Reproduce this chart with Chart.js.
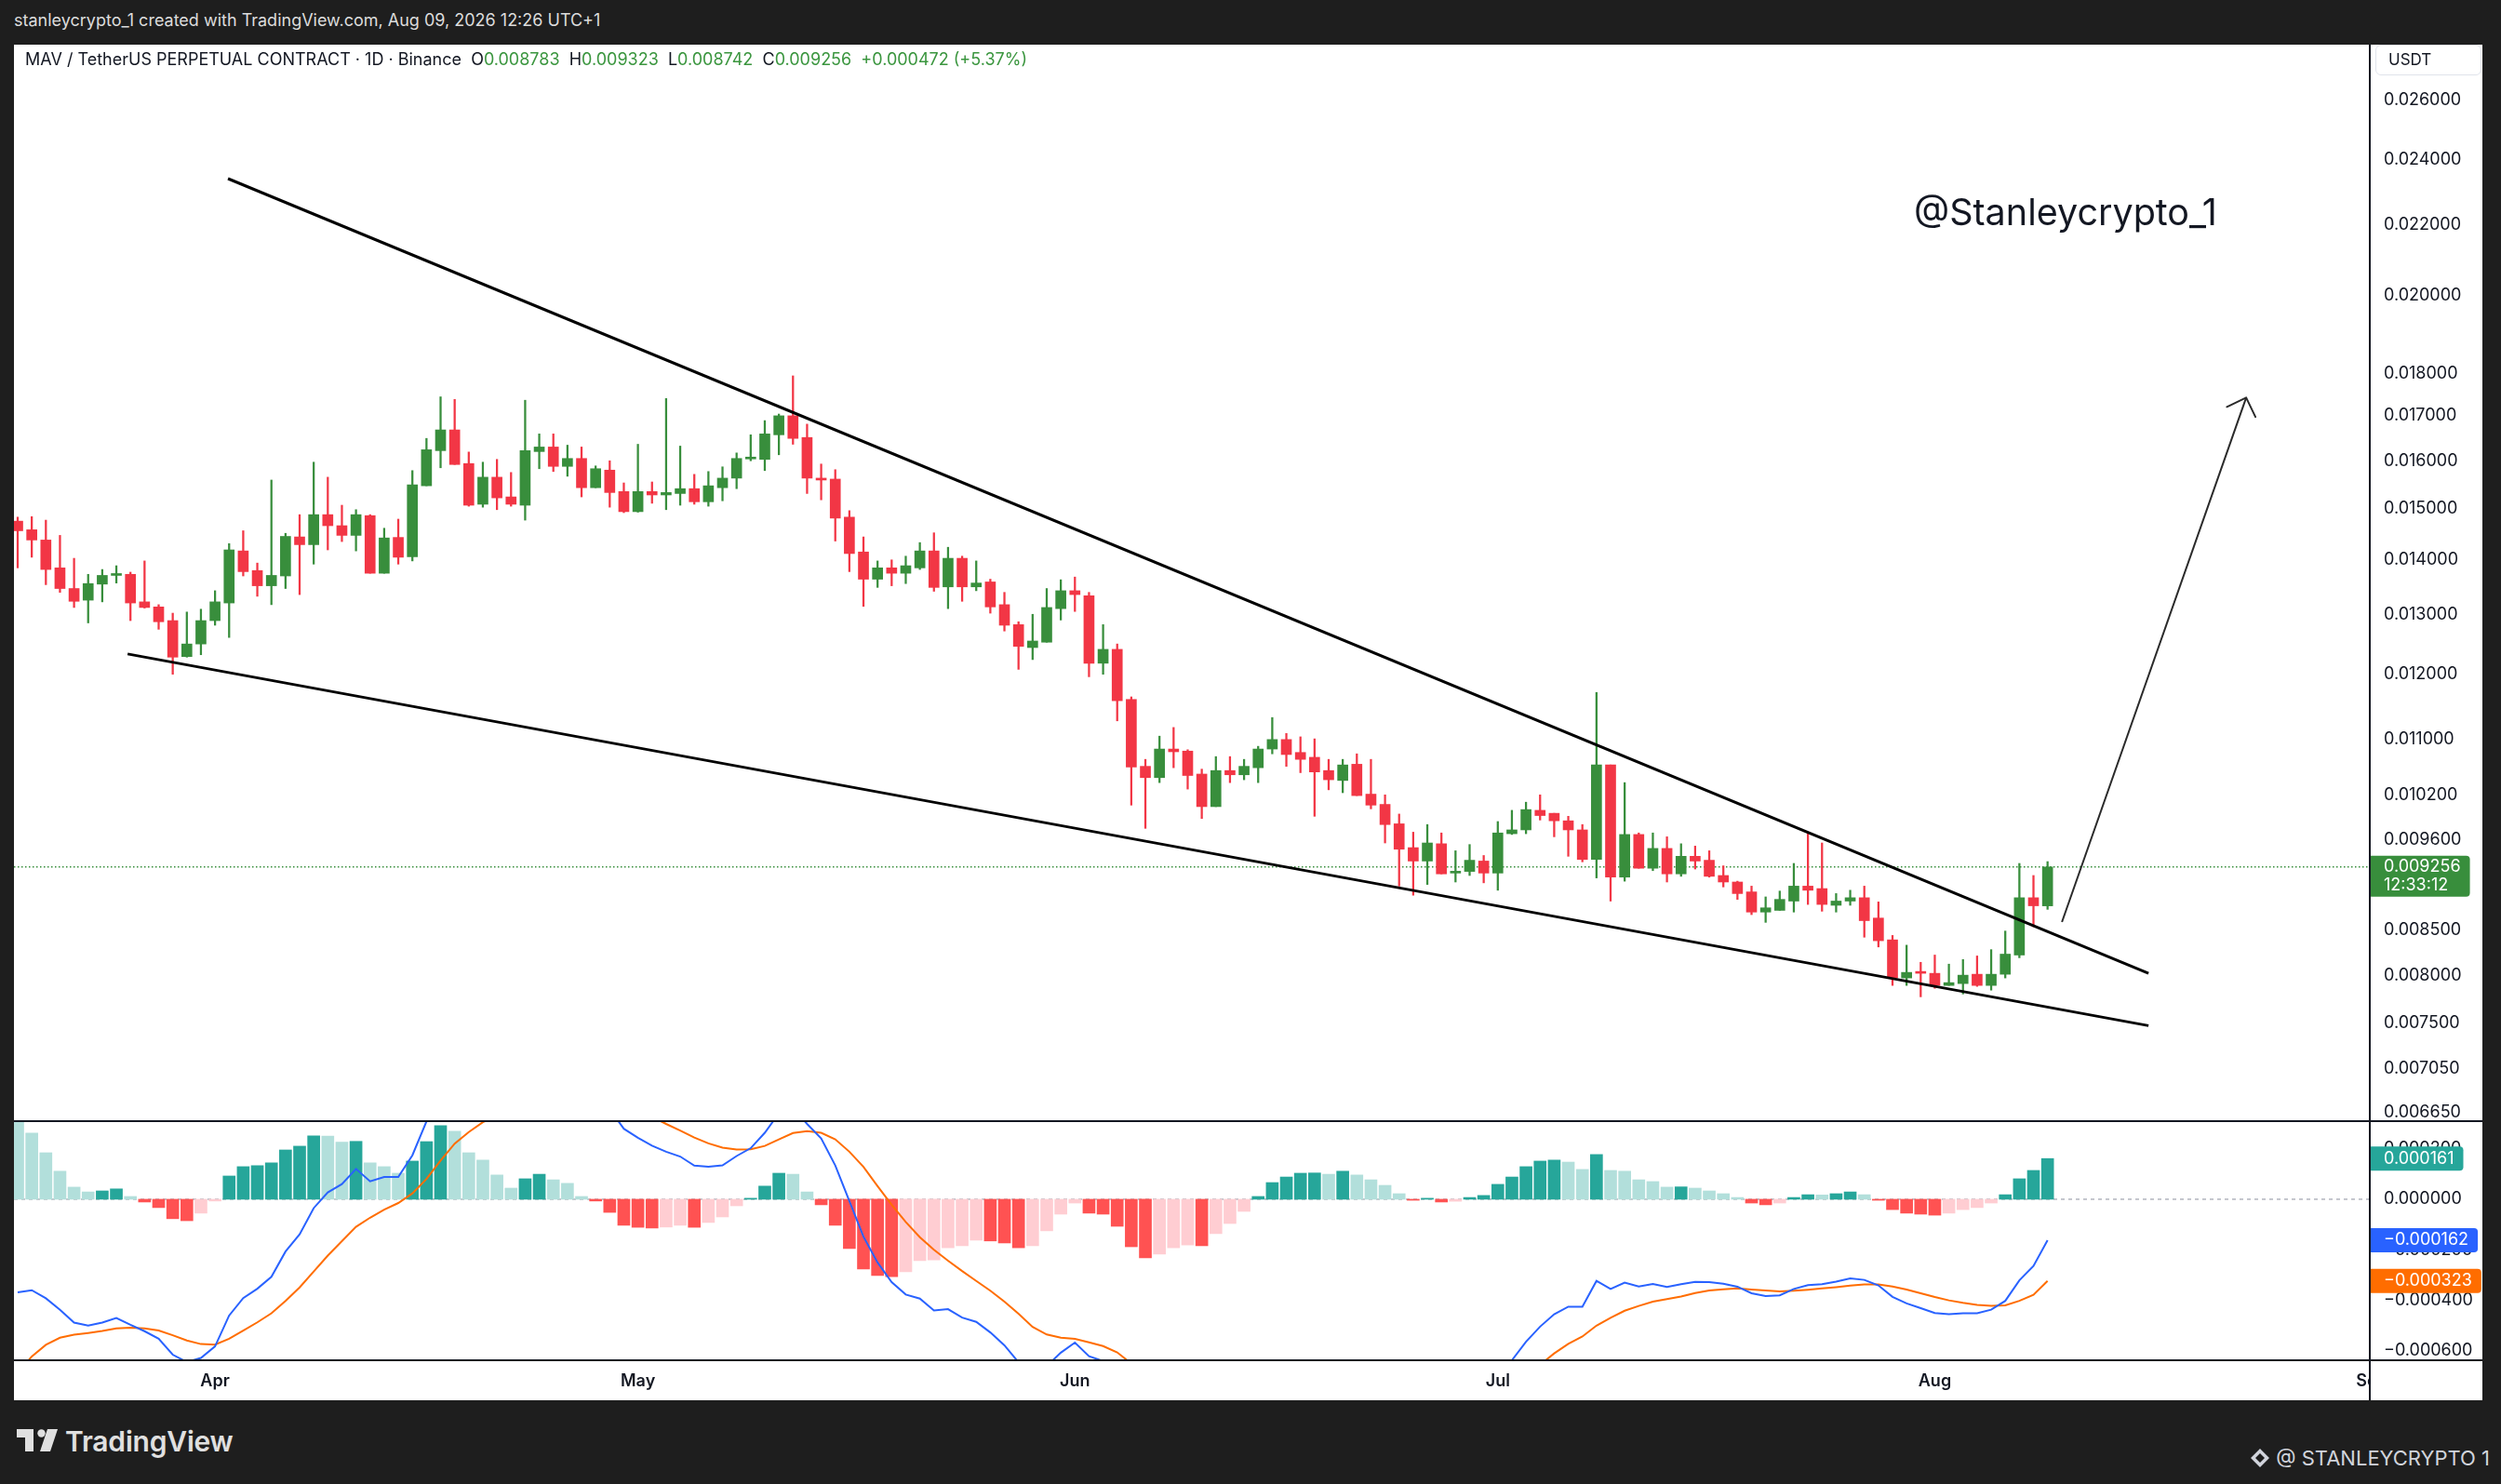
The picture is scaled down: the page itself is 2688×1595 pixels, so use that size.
<!DOCTYPE html>
<html>
<head>
<meta charset="utf-8">
<script src="https://cdn.jsdelivr.net/npm/chart.js@4.4.1/dist/chart.umd.min.js"></script>
<style>
  html, body { margin: 0; padding: 0; background: #1e1e1e; }
  body { width: 2688px; height: 1595px; position: relative; overflow: hidden; font-family: Inter, "Noto Sans", sans-serif; }
  #topline { position: absolute; left: 15px; top: 11px; font-size: 18px; line-height: 22px; color: #dcdcdc; }
  #frame { position: absolute; left: 15px; top: 48px; width: 2653px; height: 1457px; background: #fff; }
  .pane { position: absolute; left: 15px; width: 2653px; }
  #pricePane { top: 48px; height: 1157px; }
  #macdPane { top: 1205px; height: 300px; }
  .ln { position: absolute; background: #131722; z-index: 5; }
  #legend { position: absolute; left: 27px; top: 53px; font-size: 18px; line-height: 22px; color: #131722; z-index: 6; white-space: pre; }
  #legend .v { color: #3b963f; }
  #unit { position: absolute; left: 2553px; top: 48px; width: 99px; height: 31px; padding-left: 13px; border: 1px solid #e0e3eb; border-radius: 6px; font-size: 17px; line-height: 31px; color: #131722; z-index: 6; }
  #handle { position: absolute; left: 2057px; top: 209px; font-size: 39.5px; line-height: 39.5px; color: #131722; z-index: 6; }
  #tvlogo { position: absolute; left: 18px; top: 1536px; }
  #tvtext { position: absolute; left: 70px; top: 1532px; font-size: 30px; line-height: 34px; font-weight: 600; color: #e0e0e0; letter-spacing: -0.2px; }
  #mark { position: absolute; right: 12px; top: 1554px; font-size: 22px; line-height: 26px; color: #d1d4dc; }
  #mark svg { vertical-align: -3px; margin-right: 6px; }
</style>
</head>
<body>
<div id="topline">stanleycrypto_1 created with TradingView.com, Aug 09, 2026 12:26 UTC+1</div>
<div id="frame"></div>
<div class="pane" id="pricePane"><canvas id="price"></canvas></div>
<div class="pane" id="macdPane"><canvas id="macd"></canvas></div>
<div class="ln" style="left:15px; top:1204px; width:2653px; height:2px;"></div>
<div class="ln" style="left:15px; top:1461px; width:2653px; height:2px;"></div>
<div class="ln" style="left:2546px; top:48px; width:2px; height:1457px;"></div>
<div id="legend">MAV / TetherUS PERPETUAL CONTRACT · 1D · Binance  O<span class="v">0.008783</span>  H<span class="v">0.009323</span>  L<span class="v">0.008742</span>  C<span class="v">0.009256</span>  <span class="v">+0.000472 (+5.37%)</span></div>
<div id="unit">USDT</div>
<div id="handle">@Stanleycrypto_1</div>
<svg id="tvlogo" width="46" height="26" viewBox="0 0 46 26">
  <path d="M0 0 H18 V24 H9 V9 H0 Z" fill="#e0e0e0"/>
  <circle cx="26.5" cy="4.5" r="4.2" fill="#e0e0e0"/>
  <path d="M33 0 H44 L36 24 H25 Z" fill="#e0e0e0"/>
</svg>
<div id="tvtext">TradingView</div>
<div id="mark"><svg width="22" height="22" viewBox="0 0 22 22"><path d="M11 1 L21 11 L11 21 L1 11 Z M11 6 L6 11 L11 16 L16 11 Z" fill="#d1d4dc" fill-rule="evenodd"/></svg>@ STANLEYCRYPTO 1</div>

<script>
// MAV/USDT daily candles, 18 Mar .. 9 Aug (index 0 = 18 Mar)
const opens = [0.01475,0.01458,0.01438,0.01385,0.01347,0.01326,0.01355,0.01371,0.01373,0.01323,
  0.01314,0.01290,0.01229,0.01250,0.01290,0.01321,0.01417,0.01380,0.01352,0.01370,
  0.01444,0.01429,0.01488,0.01466,0.01447,0.01486,0.01375,0.01443,0.01406,0.01547,
  0.01622,0.01668,0.01594,0.01509,0.01565,0.01524,0.01507,0.01620,0.01630,0.01588,
  0.01605,0.01543,0.01580,0.01535,0.01494,0.01535,0.01528,0.01531,0.01541,0.01514,
  0.01543,0.01563,0.01604,0.01603,0.01657,0.01700,0.01651,0.01563,0.01561,0.01483,
  0.01415,0.01364,0.01385,0.01375,0.01385,0.01417,0.01350,0.01403,0.01350,0.01359,
  0.01318,0.01283,0.01244,0.01253,0.01311,0.01343,0.01334,0.01218,0.01241,0.01160,
  0.01060,0.01044,0.01085,0.01082,0.01049,0.01004,0.01054,0.01048,0.01058,0.01085,
  0.01099,0.01080,0.01073,0.01054,0.01040,0.01063,0.01021,0.01007,0.00981,0.00950,
  0.00933,0.00955,0.00918,0.00920,0.00933,0.00918,0.00968,0.00973,0.00999,0.00995,
  0.00985,0.00973,0.00935,0.01062,0.00913,0.00967,0.00924,0.00949,0.00917,0.00939,
  0.00934,0.00915,0.00907,0.00895,0.00871,0.00873,0.00884,0.00902,0.00899,0.00879,
  0.00884,0.00888,0.00864,0.00839,0.00797,0.00803,0.00802,0.00789,0.00791,0.00801,
  0.00789,0.00801,0.00822,0.00888,0.008783];
const highs = [0.01483,0.01484,0.01477,0.01447,0.01403,0.01373,0.01382,0.01389,0.01377,0.01398,
  0.01318,0.01303,0.01305,0.01310,0.01343,0.01431,0.01456,0.01394,0.01559,0.01451,
  0.01488,0.01597,0.01565,0.01507,0.01498,0.01488,0.01461,0.01479,0.01579,0.01649,
  0.01744,0.01738,0.01619,0.01597,0.01603,0.01575,0.01736,0.01659,0.01659,0.01634,
  0.01630,0.01589,0.01600,0.01553,0.01636,0.01555,0.01740,0.01632,0.01571,0.01577,
  0.01587,0.01617,0.01657,0.01689,0.01704,0.01794,0.01681,0.01593,0.01581,0.01496,
  0.01444,0.01398,0.01400,0.01407,0.01433,0.01452,0.01424,0.01407,0.01398,0.01364,
  0.01340,0.01288,0.01301,0.01347,0.01363,0.01368,0.01340,0.01283,0.01250,0.01164,
  0.01070,0.01104,0.01117,0.01084,0.01056,0.01074,0.01074,0.01070,0.01089,0.01132,
  0.01108,0.01103,0.01100,0.01070,0.01070,0.01078,0.01070,0.01020,0.00994,0.00970,
  0.00980,0.00969,0.00946,0.00954,0.00940,0.00984,0.00999,0.01010,0.01020,0.00995,
  0.00991,0.00980,0.01171,0.01062,0.01037,0.00969,0.00969,0.00964,0.00955,0.00952,
  0.00946,0.00927,0.00908,0.00902,0.00889,0.00896,0.00930,0.00968,0.00956,0.00893,
  0.00897,0.00902,0.00883,0.00844,0.00833,0.00814,0.00822,0.00812,0.00817,0.00821,
  0.00828,0.00849,0.00930,0.00915,0.009323];
const lows = [0.01385,0.01405,0.01354,0.01340,0.01313,0.01286,0.01323,0.01357,0.01290,0.01312,
  0.01275,0.01200,0.01228,0.01232,0.01282,0.01261,0.01370,0.01333,0.01318,0.01347,
  0.01336,0.01392,0.01419,0.01435,0.01417,0.01375,0.01375,0.01392,0.01398,0.01547,
  0.01585,0.01592,0.01505,0.01503,0.01498,0.01505,0.01477,0.01583,0.01577,0.01567,
  0.01524,0.01543,0.01503,0.01492,0.01493,0.01511,0.01498,0.01507,0.01509,0.01505,
  0.01516,0.01541,0.01600,0.01579,0.01613,0.01636,0.01531,0.01518,0.01436,0.01378,
  0.01315,0.01349,0.01352,0.01356,0.01382,0.01342,0.01311,0.01324,0.01343,0.01303,
  0.01272,0.01208,0.01224,0.01253,0.01291,0.01306,0.01196,0.01200,0.01127,0.01006,
  0.00975,0.01037,0.01058,0.01028,0.00988,0.01004,0.01037,0.01041,0.01037,0.01078,
  0.01060,0.01051,0.00991,0.01027,0.01023,0.01019,0.01001,0.00956,0.00902,0.00891,
  0.00904,0.00917,0.00907,0.00915,0.00906,0.00897,0.00967,0.00968,0.00986,0.00964,
  0.00939,0.00932,0.00912,0.00884,0.00908,0.00924,0.00921,0.00907,0.00914,0.00923,
  0.00913,0.00901,0.00886,0.00868,0.00859,0.00873,0.00871,0.00880,0.00872,0.00871,
  0.00879,0.00842,0.00831,0.00789,0.00789,0.00777,0.00786,0.00789,0.00780,0.00788,
  0.00784,0.00797,0.00819,0.00854,0.008742];
const closes = [0.01456,0.01438,0.01382,0.01347,0.01324,0.01356,0.01371,0.01373,0.01321,0.01313,
  0.01288,0.01228,0.01250,0.01290,0.01323,0.01419,0.01378,0.01352,0.01371,0.01445,
  0.01429,0.01488,0.01466,0.01447,0.01488,0.01375,0.01442,0.01405,0.01549,0.01624,
  0.01668,0.01592,0.01507,0.01565,0.01522,0.01509,0.01622,0.01630,0.01588,0.01605,
  0.01543,0.01583,0.01533,0.01494,0.01535,0.01528,0.01533,0.01541,0.01514,0.01547,
  0.01563,0.01605,0.01607,0.01659,0.01700,0.01649,0.01563,0.01559,0.01481,0.01412,
  0.01364,0.01385,0.01375,0.01389,0.01417,0.01349,0.01403,0.01350,0.01357,0.01314,
  0.01282,0.01246,0.01255,0.01313,0.01343,0.01336,0.01218,0.01241,0.01158,0.01059,
  0.01044,0.01085,0.01081,0.01047,0.01004,0.01054,0.01048,0.01060,0.01085,0.01099,
  0.01077,0.01070,0.01052,0.01041,0.01062,0.01019,0.01006,0.00980,0.00948,0.00933,
  0.00956,0.00917,0.00920,0.00934,0.00918,0.00969,0.00973,0.01000,0.00992,0.00985,
  0.00973,0.00935,0.01062,0.00913,0.00967,0.00924,0.00949,0.00917,0.00939,0.00933,
  0.00914,0.00907,0.00893,0.00871,0.00876,0.00886,0.00902,0.00897,0.00880,0.00884,
  0.00888,0.00861,0.00838,0.00797,0.00803,0.00802,0.00789,0.00792,0.00800,0.00789,
  0.00801,0.00823,0.00888,0.008784,0.009256];

// MACD (12, 26, close, 9)
const histogram = [0.000320,0.000262,0.000184,0.000111,0.000048,0.000029,0.000033,0.000041,0.000011,-0.000011,
  -0.000033,-0.000077,-0.000085,-0.000055,-0.000007,0.000092,0.000129,0.000133,0.000144,0.000195,
  0.000210,0.000251,0.000250,0.000226,0.000229,0.000144,0.000129,0.000103,0.000151,0.000228,
  0.000291,0.000269,0.000184,0.000155,0.000096,0.000044,0.000081,0.000099,0.000077,0.000063,
  0.000011,-0.000007,-0.000052,-0.000103,-0.000111,-0.000114,-0.000110,-0.000103,-0.000111,-0.000092,
  -0.000070,-0.000026,0.000004,0.000052,0.000103,0.000099,0.000029,-0.000022,-0.000103,-0.000195,
  -0.000276,-0.000302,-0.000306,-0.000287,-0.000243,-0.000240,-0.000192,-0.000184,-0.000162,-0.000165,
  -0.000173,-0.000192,-0.000184,-0.000125,-0.000059,-0.000015,-0.000055,-0.000059,-0.000107,-0.000188,
  -0.000232,-0.000217,-0.000192,-0.000181,-0.000184,-0.000136,-0.000096,-0.000048,0.000011,0.000066,
  0.000088,0.000103,0.000104,0.000099,0.000111,0.000096,0.000077,0.000055,0.000022,-0.000004,
  0.000004,-0.000011,-0.000008,0.000007,0.000015,0.000059,0.000088,0.000129,0.000151,0.000155,
  0.000147,0.000118,0.000177,0.000114,0.000111,0.000077,0.000070,0.000048,0.000049,0.000044,
  0.000033,0.000022,0.000007,-0.000015,-0.000022,-0.000015,0.000007,0.000018,0.000017,0.000022,
  0.000029,0.000018,-0.000004,-0.000041,-0.000055,-0.000059,-0.000063,-0.000055,-0.000041,-0.000033,
  -0.000015,0.000018,0.000081,0.000114,0.000161];
const macdLine = [-0.000368,-0.000360,-0.000392,-0.000437,-0.000488,-0.000500,-0.000488,-0.000470,-0.000497,-0.000522,
  -0.000552,-0.000615,-0.000644,-0.000628,-0.000582,-0.000460,-0.000391,-0.000354,-0.000307,-0.000207,
  -0.000139,-0.000035,0.000027,0.000060,0.000120,0.000071,0.000088,0.000088,0.000174,0.000308,
  0.000444,0.000489,0.000450,0.000460,0.000425,0.000384,0.000441,0.000484,0.000481,0.000483,
  0.000434,0.000414,0.000356,0.000279,0.000243,0.000212,0.000188,0.000169,0.000133,0.000129,
  0.000134,0.000171,0.000202,0.000263,0.000340,0.000361,0.000298,0.000241,0.000134,-0.000007,
  -0.000148,-0.000250,-0.000328,-0.000377,-0.000393,-0.000440,-0.000435,-0.000468,-0.000485,-0.000527,
  -0.000578,-0.000645,-0.000689,-0.000660,-0.000607,-0.000567,-0.000621,-0.000640,-0.000713,-0.000838,
  -0.000940,-0.000979,-0.001002,-0.001036,-0.001085,-0.001071,-0.001055,-0.001019,-0.000957,-0.000886,
  -0.000842,-0.000801,-0.000774,-0.000754,-0.000714,-0.000705,-0.000705,-0.000713,-0.000741,-0.000768,
  -0.000759,-0.000777,-0.000776,-0.000759,-0.000747,-0.000688,-0.000637,-0.000564,-0.000504,-0.000455,
  -0.000425,-0.000425,-0.000323,-0.000355,-0.000330,-0.000345,-0.000335,-0.000347,-0.000336,-0.000327,
  -0.000328,-0.000334,-0.000346,-0.000372,-0.000383,-0.000380,-0.000355,-0.000340,-0.000336,-0.000326,
  -0.000313,-0.000319,-0.000341,-0.000386,-0.000412,-0.000431,-0.000450,-0.000455,-0.000451,-0.000451,
  -0.000437,-0.000402,-0.000321,-0.000264,-0.000162];
const signalLine = [-0.000688,-0.000622,-0.000576,-0.000548,-0.000536,-0.000529,-0.000521,-0.000511,-0.000508,-0.000511,
  -0.000519,-0.000538,-0.000559,-0.000573,-0.000575,-0.000552,-0.000520,-0.000487,-0.000451,-0.000402,
  -0.000349,-0.000286,-0.000223,-0.000166,-0.000109,-0.000073,-0.000041,-0.000015,0.000023,0.000080,
  0.000153,0.000220,0.000266,0.000305,0.000329,0.000340,0.000360,0.000385,0.000404,0.000420,
  0.000423,0.000421,0.000408,0.000382,0.000354,0.000326,0.000298,0.000272,0.000244,0.000221,
  0.000204,0.000197,0.000198,0.000211,0.000237,0.000262,0.000269,0.000263,0.000237,0.000188,
  0.000128,0.000052,-0.000022,-0.000090,-0.000150,-0.000200,-0.000243,-0.000284,-0.000323,-0.000362,
  -0.000405,-0.000453,-0.000505,-0.000535,-0.000548,-0.000552,-0.000566,-0.000581,-0.000606,-0.000650,
  -0.000708,-0.000762,-0.000810,-0.000855,-0.000901,-0.000935,-0.000959,-0.000971,-0.000968,-0.000952,
  -0.000930,-0.000904,-0.000878,-0.000853,-0.000825,-0.000801,-0.000782,-0.000768,-0.000763,-0.000764,
  -0.000763,-0.000766,-0.000768,-0.000766,-0.000762,-0.000747,-0.000725,-0.000693,-0.000655,-0.000610,
  -0.000572,-0.000543,-0.000500,-0.000469,-0.000441,-0.000422,-0.000405,-0.000395,-0.000385,-0.000371,
  -0.000361,-0.000356,-0.000353,-0.000357,-0.000361,-0.000365,-0.000362,-0.000358,-0.000353,-0.000348,
  -0.000342,-0.000337,-0.000337,-0.000345,-0.000357,-0.000372,-0.000387,-0.000400,-0.000410,-0.000418,
  -0.000422,-0.000420,-0.000402,-0.000378,-0.000323];

// axis ticks
const priceTicks = [0.026, 0.024, 0.022, 0.020, 0.018, 0.017, 0.016, 0.015, 0.014, 0.013,
  0.012, 0.011, 0.0102, 0.0096, 0.0085, 0.008, 0.0075, 0.00705, 0.00665];
const macdTicks = [0.0002, 0, -0.0002, -0.0004, -0.0006];
const monthTicks = [14, 44, 75, 105, 136, 167];
const monthLabels = ['Apr', 'May', 'Jun', 'Jul', 'Aug', 'Sep'];
const countdown = '12:33:12';

// drawings: [day index, price]
const upperLine = [[14.92, 0.023401], [151.16, 0.008021]];
const lowerLine = [[7.80, 0.012333], [151.16, 0.007474]];
const arrowLine = [[145.02, 0.008594], [158.09, 0.017422]];

const GREEN = '#388E3C', RED = '#F23645';
const X_MIN = -0.264, X_MAX = 166.86;
const AXIS_W = 121;

Chart.defaults.font.family = 'Inter, "Noto Sans", sans-serif';
Chart.defaults.color = '#131722';

const idx = closes.map((_, i) => i);
const candleColors = idx.map(i => closes[i] >= opens[i] ? GREEN : RED);
const fmt = v => (v < 0 ? '\u2212' : '') + Math.abs(v).toFixed(6);
const toXY = pts => pts.map(p => ({ x: p[0], y: p[1] }));

function badge(ctx, x, yc, h, top, color, lines) {
  ctx.font = '18px Inter, "Noto Sans", sans-serif';
  const w = Math.max(...lines.map(t => ctx.measureText(t).width)) + 25;
  ctx.fillStyle = color;
  ctx.beginPath();
  ctx.roundRect(x, top, w, h, [0, 4, 4, 0]);
  ctx.fill();
  ctx.fillStyle = '#fff';
  ctx.textBaseline = 'middle';
  ctx.textAlign = 'left';
  lines.forEach((t, k) => ctx.fillText(t, x + 15, yc + k * 20));
}

const pricePlugin = {
  id: 'priceExtras',
  beforeDatasetsDraw(chart) {
    const { ctx, chartArea: a, scales: { y } } = chart;
    const py = y.getPixelForValue(closes[closes.length - 1]);
    ctx.save();
    ctx.strokeStyle = GREEN;
    ctx.lineWidth = 1.5;
    ctx.setLineDash([1.5, 2.5]);
    ctx.beginPath();
    ctx.moveTo(a.left, py);
    ctx.lineTo(a.right, py);
    ctx.stroke();
    ctx.restore();
  },
  afterDatasetsDraw(chart) {
    const { ctx, scales: { x, y } } = chart;
    const x0 = x.getPixelForValue(arrowLine[0][0]), y0 = y.getPixelForValue(arrowLine[0][1]);
    const x1 = x.getPixelForValue(arrowLine[1][0]), y1 = y.getPixelForValue(arrowLine[1][1]);
    const ang = Math.atan2(y0 - y1, x0 - x1);
    ctx.save();
    ctx.strokeStyle = '#2a2a2a';
    ctx.lineWidth = 2;
    ctx.lineCap = 'round';
    ctx.beginPath();
    [-1, 1].forEach(s => {
      const t = ang + s * Math.PI / 4;
      ctx.moveTo(x1, y1);
      ctx.lineTo(x1 + 23 * Math.cos(t), y1 + 23 * Math.sin(t));
    });
    ctx.stroke();
    ctx.restore();
  },
  afterDraw(chart) {
    const { ctx, chartArea: a, scales: { y } } = chart;
    const last = closes[closes.length - 1];
    const py = y.getPixelForValue(last);
    ctx.save();
    badge(ctx, a.right, py, 44, py - 12, GREEN, [last.toFixed(6), countdown]);
    ctx.restore();
  }
};

new Chart(document.getElementById('price'), {
  type: 'bar',
  data: {
    datasets: [
      { data: idx.map(i => ({ x: i, y: [lows[i], highs[i]] })), backgroundColor: candleColors,
        barThickness: 1.6, grouped: false, order: 5 },
      { data: idx.map(i => ({ x: i, y: [opens[i], closes[i]] })), backgroundColor: candleColors,
        barThickness: 11, minBarLength: 2, grouped: false, order: 4 },
      { type: 'line', data: toXY(upperLine), borderColor: '#000', borderWidth: 3, pointRadius: 0, order: 1 },
      { type: 'line', data: toXY(lowerLine), borderColor: '#000', borderWidth: 3, pointRadius: 0, order: 1 },
      { type: 'line', data: toXY(arrowLine), borderColor: '#2a2a2a', borderWidth: 2, pointRadius: 0, order: 1 }
    ]
  },
  options: {
    responsive: true,
    maintainAspectRatio: false,
    animation: false,
    layout: { padding: 0 },
    plugins: { legend: { display: false }, tooltip: { enabled: false } },
    scales: {
      x: { type: 'linear', min: X_MIN, max: X_MAX, offset: false, display: false },
      y: {
        type: 'logarithmic', position: 'right', min: 0.0065715, max: 0.0280313,
        grid: { display: false, drawTicks: false }, border: { display: false },
        afterBuildTicks: s => { s.ticks = priceTicks.map(v => ({ value: v })); },
        afterFit: s => { s.width = AXIS_W; s.paddingTop = 0; s.paddingBottom = 0; },
        ticks: { autoSkip: false, padding: 15, font: { size: 18 }, color: '#131722', callback: v => Number(v).toFixed(6) }
      }
    }
  },
  plugins: [pricePlugin]
});

const histColors = histogram.map((h, i) => {
  const rising = i > 0 && h > histogram[i - 1];
  if (h >= 0) return rising ? '#26A69A' : '#B2DFDB';
  return rising ? '#FFCDD2' : '#FF5252';
});

const macdPlugin = {
  id: 'macdExtras',
  beforeDatasetsDraw(chart) {
    const { ctx, chartArea: a, scales: { y } } = chart;
    const py = y.getPixelForValue(0);
    ctx.save();
    ctx.strokeStyle = '#b2b5be';
    ctx.lineWidth = 1.5;
    ctx.setLineDash([4, 4]);
    ctx.beginPath();
    ctx.moveTo(a.left, py);
    ctx.lineTo(a.right, py);
    ctx.stroke();
    ctx.restore();
  },
  afterDraw(chart) {
    const { ctx, chartArea: a, scales: { y }, width, height } = chart;
    ctx.save();
    // time-axis row is clipped at the price scale
    ctx.fillStyle = '#fff';
    ctx.fillRect(a.right + 1, a.bottom + 2, width - a.right, height - a.bottom - 2);
    const n = histogram.length - 1;
    [[histogram[n], histColors[n]], [macdLine[n], '#2962FF'], [signalLine[n], '#FF6D00']].forEach(([v, c]) => {
      const py = y.getPixelForValue(v);
      badge(ctx, a.right, py, 26, py - 13, c, [fmt(v)]);
    });
    ctx.restore();
  }
};

new Chart(document.getElementById('macd'), {
  type: 'bar',
  data: {
    datasets: [
      { type: 'line', data: idx.map(i => ({ x: i, y: macdLine[i] })), borderColor: '#2962FF', borderWidth: 2,
        pointRadius: 0, order: 1 },
      { type: 'line', data: idx.map(i => ({ x: i, y: signalLine[i] })), borderColor: '#FF6D00', borderWidth: 2,
        pointRadius: 0, order: 2 },
      { data: idx.map(i => ({ x: i, y: histogram[i] })), backgroundColor: histColors, barThickness: 13,
        grouped: false, order: 3 }
    ]
  },
  options: {
    responsive: true,
    maintainAspectRatio: false,
    animation: false,
    layout: { padding: 0 },
    plugins: { legend: { display: false }, tooltip: { enabled: false } },
    scales: {
      x: {
        type: 'linear', min: X_MIN, max: X_MAX, offset: false,
        grid: { display: false, drawTicks: false }, border: { display: false },
        afterBuildTicks: s => { s.ticks = monthTicks.map(v => ({ value: v })); },
        afterFit: s => { s.height = 43; s.paddingLeft = 0; s.paddingRight = 0; },
        ticks: { autoSkip: false, maxRotation: 0, padding: 12, font: { size: 18, weight: '600' }, color: '#131722',
          callback: v => monthLabels[monthTicks.indexOf(v)] }
      },
      y: {
        type: 'linear', position: 'right', min: -0.000637, max: 0.000309,
        grid: { display: false, drawTicks: false }, border: { display: false },
        afterBuildTicks: s => { s.ticks = macdTicks.map(v => ({ value: v })); },
        afterFit: s => { s.width = AXIS_W; s.paddingTop = 0; s.paddingBottom = 0; },
        ticks: { autoSkip: false, padding: 15, font: { size: 18 }, color: '#131722', callback: v => fmt(v) }
      }
    }
  },
  plugins: [macdPlugin]
});
</script>
</body>
</html>
